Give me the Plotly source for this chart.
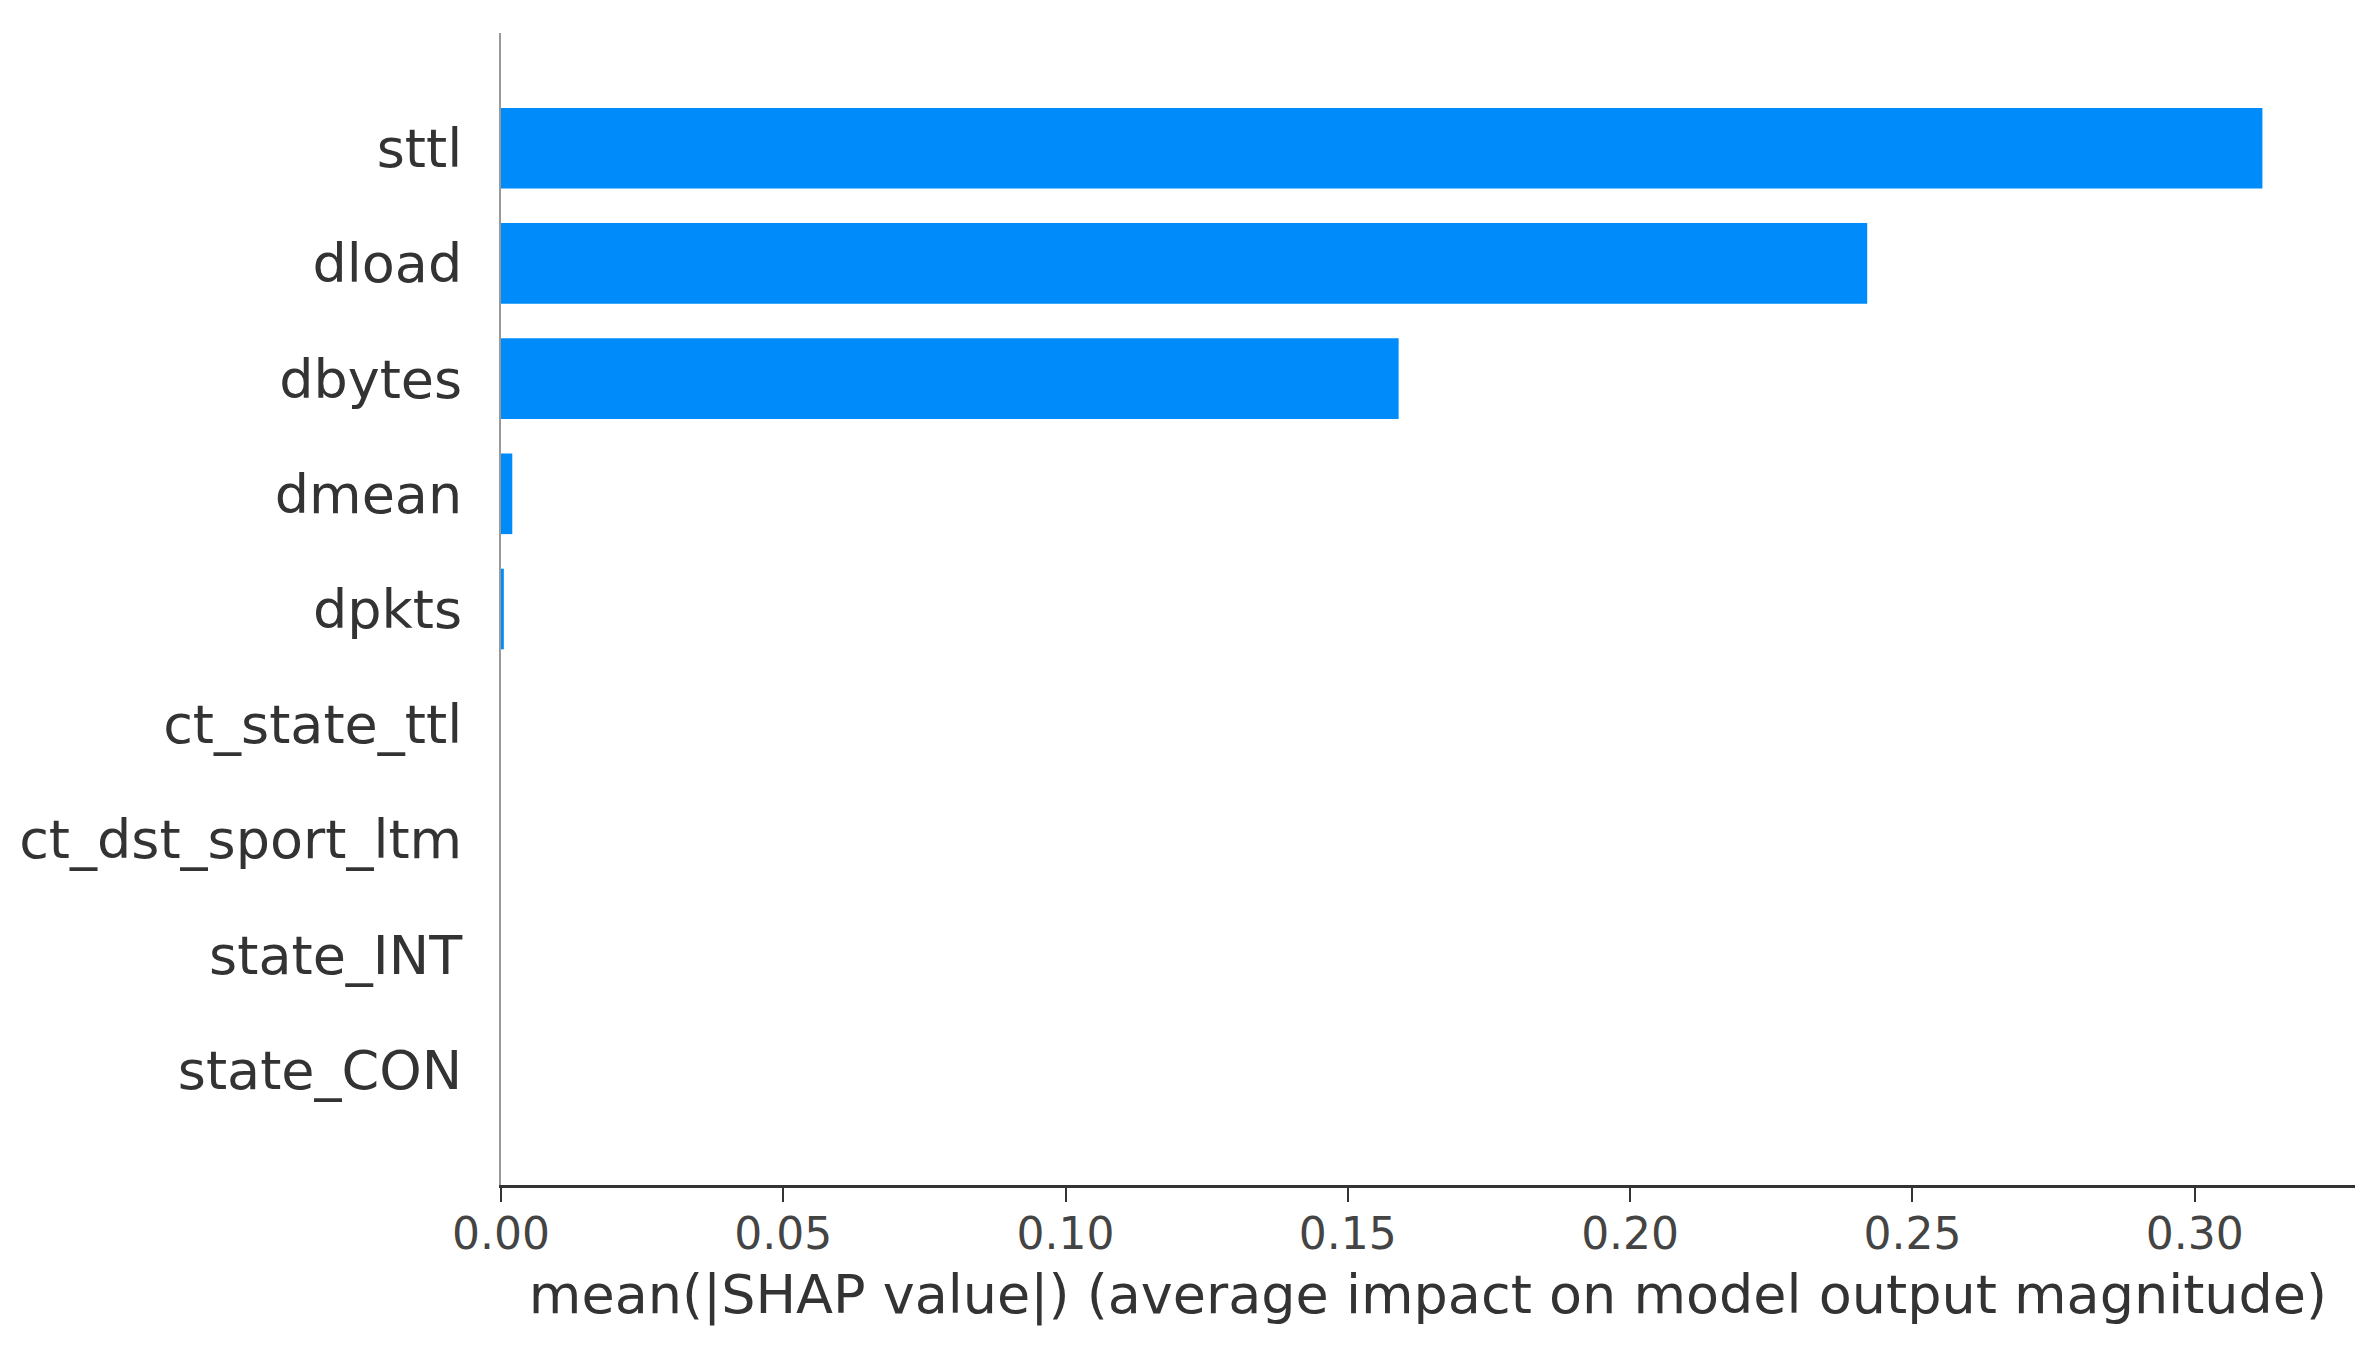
import plotly.graph_objects as go

# Data (bottom to top)
features = ["state_CON", "state_INT", "ct_dst_sport_ltm", "ct_state_ttl",
            "dpkts", "dmean", "dbytes", "dload", "sttl"]
mean_abs_shap = [0.0, 0.0, 0.0, 0.0, 0.0005, 0.002, 0.159, 0.242, 0.312]
x_tick_vals = [0.00, 0.05, 0.10, 0.15, 0.20, 0.25, 0.30]
x_tick_text = ["0.00", "0.05", "0.10", "0.15", "0.20", "0.25", "0.30"]
x_title = "mean(|SHAP value|) (average impact on model output magnitude)"

FONT = "DejaVu Sans"
AXIS_COLOR = "#333333"

fig = go.Figure(
    go.Bar(
        x=mean_abs_shap,
        y=features,
        orientation="h",
        marker=dict(color="#008bfb", line=dict(width=0)),
        width=0.7,
    )
)

fig.update_layout(
    width=2376,
    height=1348,
    margin=dict(l=493, r=29, t=25, b=171, autoexpand=False),
    paper_bgcolor="white",
    plot_bgcolor="white",
    showlegend=False,
    font=dict(family=FONT, color=AXIS_COLOR),
)

fig.update_xaxes(
    range=[0, 0.3284],
    tickvals=x_tick_vals,
    ticktext=x_tick_text,
    showgrid=False,
    zeroline=False,
    showline=True,
    linecolor=AXIS_COLOR,
    linewidth=3,
    ticks="outside",
    ticklen=14,
    tickwidth=2,
    tickcolor=AXIS_COLOR,
    ticklabelstandoff=-6,
    tickfont=dict(family=FONT, size=44, color="#444444"),
    title=dict(text=x_title, font=dict(family=FONT, size=54, color=AXIS_COLOR), standoff=18),
    automargin=False,
)

fig.update_yaxes(
    type="category",
    categoryorder="array",
    categoryarray=features,
    range=[-1, 9],
    showgrid=False,
    zeroline=False,
    showline=True,
    linecolor="#999999",
    linewidth=2,
    ticks="",
    ticklabelstandoff=26,
    tickfont=dict(family=FONT, size=54, color=AXIS_COLOR),
    automargin=False,
)

fig.write_html("out.html")
